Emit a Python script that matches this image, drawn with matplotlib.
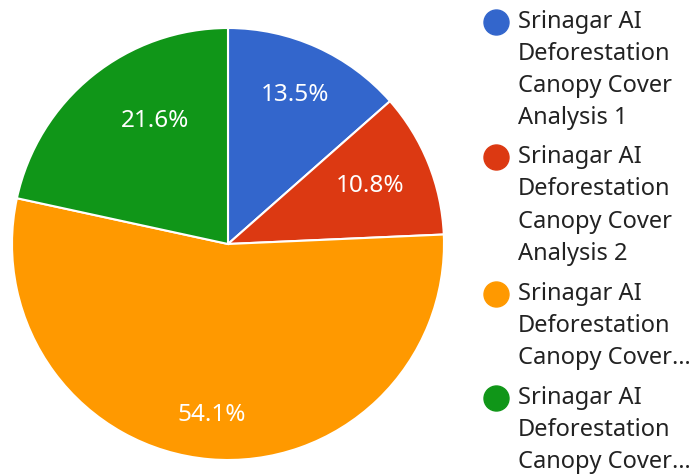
import matplotlib
matplotlib.use("Agg")
import matplotlib.pyplot as plt
from matplotlib.lines import Line2D

categories = [
    "Srinagar AI Deforestation Canopy Cover Analysis 1",
    "Srinagar AI Deforestation Canopy Cover Analysis 2",
    "Srinagar AI Deforestation Canopy Cover Analysis 3",
    "Srinagar AI Deforestation Canopy Cover Analysis 4",
]
legend_lines = [
    ["Srinagar AI", "Deforestation", "Canopy Cover", "Analysis 1"],
    ["Srinagar AI", "Deforestation", "Canopy Cover", "Analysis 2"],
    ["Srinagar AI", "Deforestation", "Canopy Cover\u2026"],
    ["Srinagar AI", "Deforestation", "Canopy Cover\u2026"],
]
values = [13.5, 10.8, 54.1, 21.6]
colors = ["#3366cc", "#dc3912", "#ff9900", "#109618"]
# label placement (fraction of radius, data coords of pie)
label_pos = [(0.310, 0.690), (0.657, 0.269), (-0.074, -0.792), (-0.338, 0.569)]

W, H = 693, 476
fig = plt.figure(figsize=(W / 100, H / 100), dpi=100)
cx, cy, r = 228, 244, 216
ax = fig.add_axes([(cx - r) / W, (H - cy - r) / H, 2 * r / W, 2 * r / H])
wedges, texts, autotexts = ax.pie(
    values, colors=colors, startangle=90, counterclock=False,
    autopct=lambda p: f"{p:.1f}%", pctdistance=0.755,
    wedgeprops=dict(edgecolor="white", linewidth=1.5),
    textprops=dict(color="white", fontsize=17.5, family="Noto Sans"),
)
for t, p in zip(autotexts, label_pos):
    t.set_position(p)
ax.set_aspect("equal")
ax.set_xlim(-1, 1)
ax.set_ylim(-1, 1)

line_h = 32
y = 21.5
for lines, col in zip(legend_lines, colors):
    fig.add_artist(Line2D([496 / W], [1 - y / H], marker="o", markersize=18,
                          color=col, transform=fig.transFigure, linestyle="none"))
    for i, t in enumerate(lines):
        fig.text(518 / W, 1 - (y + i * line_h) / H, t, fontsize=17,
                 family="Noto Sans", color="#222222", va="center", ha="left")
    y += len(lines) * line_h + 8

fig.savefig("out.png", dpi=100)
